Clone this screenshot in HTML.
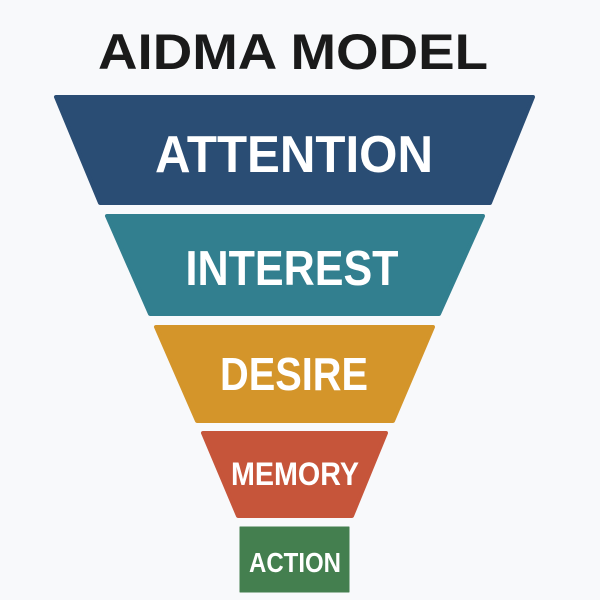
<!DOCTYPE html>
<html><head><style>html,body{margin:0;padding:0;background:#f8f9fb;}svg{display:block}</style></head>
<body>
<svg width="600" height="600" viewBox="0 0 600 600" xmlns="http://www.w3.org/2000/svg" font-family="Liberation Sans, sans-serif" font-weight="bold">
<rect width="600" height="600" fill="#f8f9fb"/>
<text x="293" y="69" font-size="50" fill="#1a1a1a" text-anchor="middle" textLength="390" lengthAdjust="spacingAndGlyphs">AIDMA MODEL</text>
<g stroke-linejoin="round" stroke-width="4">
<polygon points="56,97 533,97 490,203 100,203" fill="#2a4d74" stroke="#2a4d74"/>
<polygon points="107,216 483,216 439,314 150,314" fill="#327f8f" stroke="#327f8f"/>
<polygon points="156,327 433,327 393,421 197,421" fill="#d4952a" stroke="#d4952a"/>
<polygon points="203,433 386,433 352,516 238,516" fill="#c6553a" stroke="#c6553a"/>
<rect x="240" y="527" width="109" height="65" fill="#447f4f" stroke="#447f4f" stroke-width="1"/>
</g>
<g fill="#fff" text-anchor="middle">
<text x="294" y="172" font-size="52" textLength="278" lengthAdjust="spacingAndGlyphs">ATTENTION</text>
<text x="292" y="285" font-size="49" textLength="213" lengthAdjust="spacingAndGlyphs">INTEREST</text>
<text x="294" y="390" font-size="46" textLength="148" lengthAdjust="spacingAndGlyphs">DESIRE</text>
<text x="295" y="485" font-size="32" textLength="128" lengthAdjust="spacingAndGlyphs">MEMORY</text>
<text x="295" y="572" font-size="28" textLength="92" lengthAdjust="spacingAndGlyphs">ACTION</text>
</g>
</svg>
</body></html>
